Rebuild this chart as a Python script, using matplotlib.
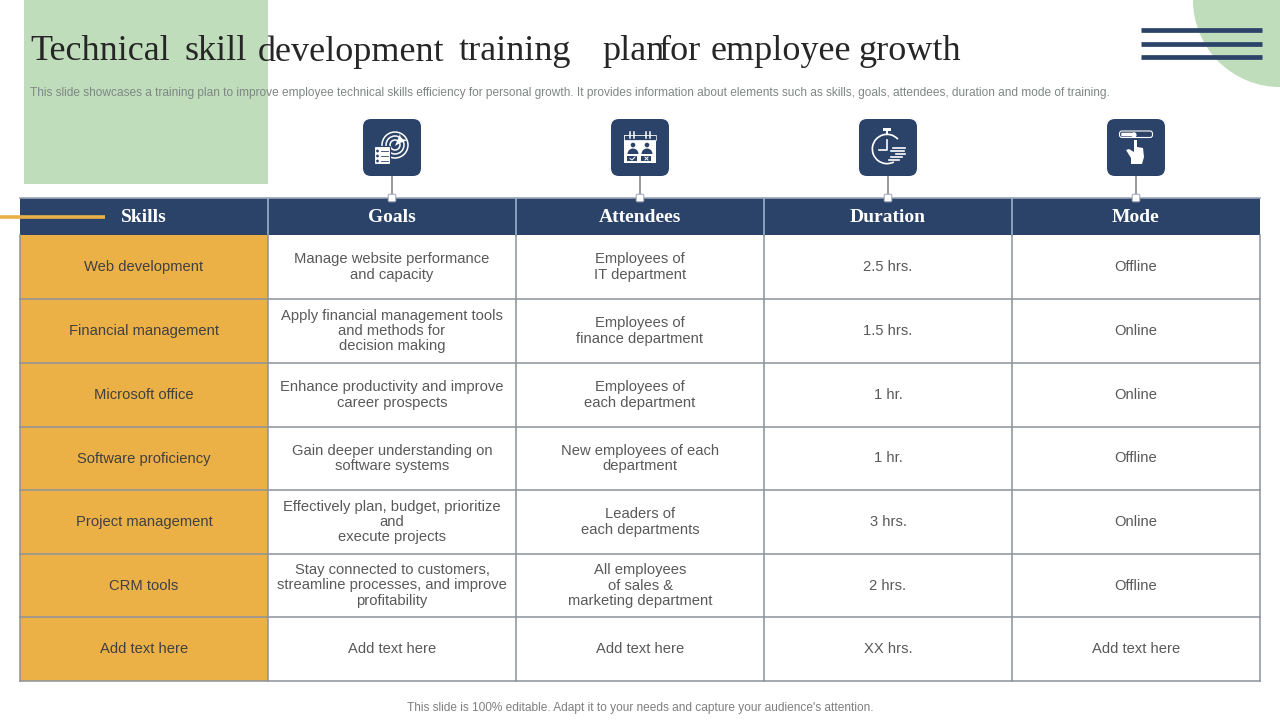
import matplotlib
matplotlib.use('Agg')
import matplotlib.pyplot as plt
from matplotlib.patches import Rectangle, FancyBboxPatch, Circle, Wedge, Polygon

# Table content
headers = ['Skills', 'Goals', 'Attendees', 'Duration', 'Mode']
skills = ['Web development', 'Financial management', 'Microsoft office', 'Software proficiency',
          'Project management', 'CRM tools', 'Add text here']
goals = ['Manage website performance\nand capacity',
         'Apply financial management tools\nand methods for\ndecision making',
         'Enhance productivity and improve\ncareer prospects',
         'Gain deeper understanding on\nsoftware systems',
         'Effectively plan, budget, prioritize\nand\nexecute projects',
         'Stay connected to customers,\nstreamline processes, and improve\nprofitability',
         'Add text here']
attendees = ['Employees of\nIT department', 'Employees of\nfinance department',
             'Employees of\neach department', 'New employees of each\ndepartment',
             'Leaders of\neach departments', 'All employees\nof sales &\nmarketing department',
             'Add text here']
durations = ['2.5 hrs.', '1.5 hrs.', '1 hr.', '1 hr.', '3 hrs.', '2 hrs.', 'XX hrs.']
modes = ['Offline', 'Online', 'Online', 'Offline', 'Online', 'Offline', 'Add text here']

title_words = ['Technical', 'skill', 'development', 'training', 'plan', 'for', 'employee', 'growth']
title_x = [30, 184, 258, 459, 602, 659, 711, 858]
subtitle = ('This slide showcases a training plan to improve employee technical skills efficiency '
            'for personal growth. It provides information about elements such as skills, goals, '
            'attendees, duration and mode of training.')
footer = "This slide is 100% editable. Adapt it to your needs and capture your audience's attention."

col_x = [20, 268, 516, 764, 1012, 1260]
row_y = [235, 299, 363, 427, 490, 554, 617, 681]
header_top = 198

NAVY = '#2C4369'
GOLD = '#EBB146'
GREEN = '#BFDDBB'
GRID = '#8C929B'
TEXT = '#595959'
SERIF = 'Liberation Serif'
SANS = 'Liberation Sans'

fig = plt.figure(figsize=(12.8, 7.2), dpi=100)
ax = fig.add_axes([0, 0, 1, 1])
ax.set_xlim(0, 1280)
ax.set_ylim(720, 0)
ax.axis('off')

# background decoration
ax.add_patch(Rectangle((24, 0), 244, 184, fc=GREEN, ec='none', zorder=0))
ax.add_patch(Circle((1280, 0), 87, fc=GREEN, ec='none', zorder=0))
for y in [30, 44, 57]:
    ax.plot([1141, 1262], [y, y], color=NAVY, lw=3.4, solid_capstyle='butt', zorder=1)

for word, x in zip(title_words, title_x):
    ax.text(x, 52, word, family=SERIF, fontsize=26, color='#262626', ha='left', va='center', zorder=3)
ax.text(30, 93, subtitle, family=SANS, fontsize=8.55, color='#7F8784', ha='left', va='center', zorder=3)
ax.text(640, 708.5, footer, family=SANS, fontsize=8.6, color='#7F7F7F', ha='center', va='center')

# header band
ax.add_patch(Rectangle((col_x[0], header_top), col_x[-1] - col_x[0], row_y[0] - header_top,
                       fc=NAVY, ec='none', zorder=2))
for x0, x1, label in zip(col_x[:-1], col_x[1:], headers):
    ax.text((x0 + x1) / 2, 218, label, family=SERIF, fontsize=14, fontweight='bold',
            color='white', ha='center', va='center', zorder=5)
ax.plot(col_x[:1] + col_x[-1:], [header_top, header_top], color='#9AA5B8', lw=1.2, zorder=3)
for x in col_x[1:-1]:
    ax.plot([x, x], [header_top, row_y[0]], color='#9AB0CC', lw=1.2, zorder=3)

# skills column and row lines
ax.add_patch(Rectangle((col_x[0], row_y[0]), col_x[1] - col_x[0], row_y[-1] - row_y[0],
                       fc=GOLD, ec='none', zorder=2))
ax.plot([0, 105], [216.5, 216.5], color=GOLD, lw=2.6, solid_capstyle='butt', zorder=4)
for y in row_y[1:]:
    ax.plot([col_x[0], col_x[-1]], [y, y], color=GRID, lw=1.1, zorder=3)
for x in col_x:
    ax.plot([x, x], [row_y[0], row_y[-1]], color=GRID, lw=1.1, zorder=3)

columns = [skills, goals, attendees, durations, modes]
for c, values in enumerate(columns):
    cx = (col_x[c] + col_x[c + 1]) / 2
    for r, value in enumerate(values):
        cy = (row_y[r] + row_y[r + 1]) / 2
        ax.text(cx, cy, value, family=SANS, fontsize=10.6, color='#404040' if c == 0 else TEXT,
                ha='center', va='center', linespacing=1.12, zorder=5)

# icon tiles above the columns
icon_x = [392, 640, 888, 1136]
for cx in icon_x:
    ax.add_patch(FancyBboxPatch((cx - 29 + 8, 119 + 8), 58 - 16, 57 - 16,
                                boxstyle='round,pad=8,rounding_size=8', fc=NAVY, ec='none', zorder=3))
    ax.plot([cx, cx], [176, 196], color='#7F7F7F', lw=1.1, zorder=2)
    ax.add_patch(FancyBboxPatch((cx - 3, 195), 6, 6, boxstyle='round,pad=0.8,rounding_size=1.2',
                                fc='white', ec='#9AA5B8', lw=0.7, zorder=4))


def target_icon(cx):
    for r, lw in [(13, 1.1), (9, 1.1), (5, 1.1)]:
        ax.add_patch(Circle((cx + 3, 145), r, fc='none', ec='white', lw=lw, zorder=5))
    ax.add_patch(Polygon([(cx + 3, 146), (cx + 8, 134), (cx + 9, 139), (cx + 16, 140), (cx + 8, 143)],
                         fc='white', ec='none', zorder=6))
    ax.add_patch(FancyBboxPatch((cx - 17, 147), 15, 17, boxstyle='round,pad=0.5,rounding_size=1',
                                fc='white', ec=NAVY, lw=0.8, zorder=6))
    for y in [151, 156, 161]:
        ax.add_patch(Circle((cx - 14.5, y), 1.4, fc=NAVY, ec='none', zorder=7))
        ax.plot([cx - 11, cx - 4], [y, y], color=NAVY, lw=0.6, zorder=7)


def calendar_icon(cx):
    ax.add_patch(Rectangle((cx - 16, 135), 32, 28, fc='white', ec='none', zorder=5))
    ax.add_patch(Rectangle((cx - 16, 135), 32, 5, fc=NAVY, ec='white', lw=0.5, zorder=6))
    for dx in [-10, -6, 6, 10]:
        ax.plot([cx + dx, cx + dx], [132, 138], color='white', lw=1.1, zorder=7)
    for dx in [-7, 7]:
        ax.add_patch(Circle((cx + dx, 145), 2.3, fc=NAVY, ec='none', zorder=7))
        ax.add_patch(Wedge((cx + dx, 154), 5.5, 180, 360, fc=NAVY, ec='none', zorder=7))
    ax.add_patch(Rectangle((cx - 13, 156), 10, 5, fc=NAVY, ec='none', zorder=7))
    ax.add_patch(Rectangle((cx + 1, 156), 10, 5, fc=NAVY, ec='none', zorder=7))
    ax.plot([cx - 10, cx - 8, cx - 5], [158.5, 160, 157], color='white', lw=0.7, zorder=8)
    ax.plot([cx + 5, cx + 8], [157, 160], color='white', lw=0.7, zorder=8)
    ax.plot([cx + 5, cx + 8], [160, 157], color='white', lw=0.7, zorder=8)


def stopwatch_icon(cx):
    ax.add_patch(Wedge((cx - 1, 149), 15.5, 62, 318, width=1.7, fc='white', ec='none', zorder=5))
    ax.add_patch(Rectangle((cx - 5, 128), 8, 3, fc='white', ec='none', zorder=5))
    ax.add_patch(Rectangle((cx - 2, 130), 2, 4, fc='white', ec='none', zorder=5))
    ax.plot([cx - 1, cx - 1, cx - 9], [140, 149.5, 149.5], color='white', lw=1.2, zorder=6)
    for x0, x1, y in [(5, 17, 148), (3, 16, 151), (8, 17, 154), (3, 14, 157), (1, 11, 160)]:
        ax.plot([cx + x0, cx + x1], [y, y], color='white', lw=1.2, zorder=6)


def hand_icon(cx):
    ax.add_patch(FancyBboxPatch((cx - 15, 132.5), 30, 3.5, boxstyle='round,pad=1.5,rounding_size=2.5',
                                fc=NAVY, ec='white', lw=0.8, zorder=5))
    ax.add_patch(FancyBboxPatch((cx - 14, 133.5), 13, 2, boxstyle='round,pad=0.8,rounding_size=1',
                                fc='white', ec='none', zorder=6))
    ax.add_patch(Circle((cx - 2, 135), 2.6, fc='white', ec='none', zorder=6))
    ax.add_patch(Polygon([(cx - 2, 140), (cx + 1, 140), (cx + 1, 147), (cx + 7, 148), (cx + 8, 157),
                          (cx + 6, 164), (cx - 5, 164), (cx - 5, 158), (cx - 10, 150), (cx - 7, 149),
                          (cx - 2, 152)], fc='white', ec='none', zorder=6))


target_icon(icon_x[0])
calendar_icon(icon_x[1])
stopwatch_icon(icon_x[2])
hand_icon(icon_x[3])

fig.savefig('out.png', dpi=100)
plt.close(fig)
